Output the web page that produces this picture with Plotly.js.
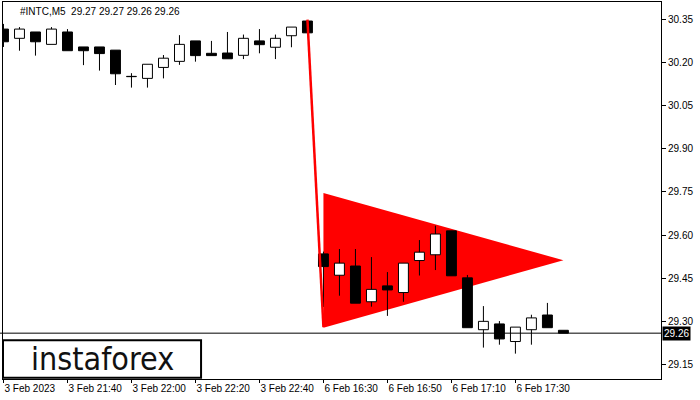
<!DOCTYPE html>
<html>
<head>
<meta charset="utf-8">
<script src="https://cdn.plot.ly/plotly-3.0.1.min.js"></script>
<style>html,body{margin:0;padding:0;background:#fff;}#chart{width:700px;height:400px;}</style>
</head>
<body>
<div id="chart"></div>
<script>
// Bar index (5-minute candles), 3 Feb 21:20 .. 22:55 then 6 Feb 16:30 .. 17:45
const candleIndex = [0,1,2,3,4,5,6,7,8,9,10,11,12,13,14,15,16,17,18,19,20,21,22,23,24,25,26,27,28,29,30,31,32,33,34,35];
const openVals  = [30.315,30.283,30.305,30.262,30.305,30.253,30.253,30.242,30.151,30.144,30.182,30.203,30.274,30.231,30.232,30.224,30.274,30.252,30.292,30.343,
                   29.535,29.461,29.493,29.369,29.424,29.401,29.512,29.532,29.615,29.452,29.272,29.292,29.231,29.272,29.323,29.27];
const highVals  = [30.333,30.322,30.305,30.322,30.315,30.253,30.253,30.242,30.162,30.193,30.225,30.294,30.274,30.274,30.305,30.296,30.315,30.296,30.322,30.345,
                   29.543,29.552,29.552,29.524,29.472,29.503,29.583,29.633,29.615,29.462,29.354,29.302,29.281,29.324,29.365,29.27];
const lowVals   = [30.253,30.240,30.223,30.262,30.240,30.190,30.171,30.121,30.112,30.112,30.144,30.191,30.202,30.223,30.212,30.211,30.231,30.211,30.252,30.302,
                   29.351,29.390,29.364,29.352,29.320,29.369,29.460,29.479,29.459,29.279,29.210,29.220,29.189,29.220,29.279,29.26];
const closeVals = [30.271,30.315,30.271,30.315,30.240,30.240,30.230,30.160,30.150,30.193,30.214,30.262,30.223,30.223,30.212,30.283,30.261,30.283,30.322,30.302,
                   29.491,29.503,29.364,29.412,29.410,29.503,29.541,29.604,29.459,29.279,29.301,29.240,29.281,29.313,29.279,29.26];

const xTickVals = [0,4,8,12,16,20,24,28,32];
const xTickText = ['3 Feb 2023','3 Feb 21:40','3 Feb 22:00','3 Feb 22:20','3 Feb 22:40','6 Feb 16:30','6 Feb 16:50','6 Feb 17:10','6 Feb 17:30'];
const yTickVals = [29.15,29.30,29.45,29.60,29.75,29.90,30.05,30.20,30.35];

// Pennant pattern (flagpole + triangle)
const poleX = [19, 20];
const poleY = [30.348, 29.281];
const triX = [20, 20, 35];
const triY = [29.746, 29.279, 29.513];

const lastPrice = 29.26;
const titleText = '#INTC,M5\u00a0\u00a029.27 29.27 29.26 29.26';

// derived: wicks drawn only outside the body so hollow bodies stay empty
const wickX = [], wickY = [];
candleIndex.forEach((x, i) => {
  const top = Math.max(openVals[i], closeVals[i]);
  const bot = Math.min(openVals[i], closeVals[i]);
  if (highVals[i] > top) { wickX.push(x, x, null); wickY.push(top, highVals[i], null); }
  if (lowVals[i] < bot) { wickX.push(x, x, null); wickY.push(lowVals[i], bot, null); }
});
const bodyBase = candleIndex.map((x, i) => Math.min(openVals[i], closeVals[i]));
const bodyH = candleIndex.map((x, i) => Math.max(Math.abs(closeVals[i] - openVals[i]), 0.0005));
const bodyColor = candleIndex.map((x, i) => closeVals[i] >= openVals[i] ? '#ffffff' : '#000000');
const triPath = triX.map((x, i) => (i ? 'L' : 'M') + x + ',' + triY[i]).join(' ') + ' Z';

const traces = [
  {type:'scatter', mode:'lines', x:wickX, y:wickY, line:{color:'#000', width:1}, hoverinfo:'skip'},
  {type:'bar', x:candleIndex, y:bodyH, base:bodyBase, width:0.62, marker:{color:bodyColor, line:{color:'#000', width:1}}, hoverinfo:'skip'},
  {type:'scatter', mode:'lines', x:poleX, y:poleY, line:{color:'#ff0000', width:2.5}, hoverinfo:'skip'}
];

const layout = {
  width:700, height:400,
  margin:{l:3, r:39, t:2, b:21},
  paper_bgcolor:'#ffffff', plot_bgcolor:'#ffffff',
  showlegend:false,
  barmode:'overlay',
  font:{family:'Liberation Sans, Arial, sans-serif', size:10, color:'#000'},
  xaxis:{
    range:[-0.03, 41.1], showgrid:false, zeroline:false,
    showline:true, mirror:true, linecolor:'#000', linewidth:1,
    tickmode:'array', tickvals:xTickVals, ticktext:xTickText,
    ticks:'outside', ticklen:3, tickcolor:'#000',
    ticklabelposition:'outside right',
    tickfont:{family:'Liberation Sans, Arial, sans-serif', size:10, color:'#000'}
  },
  yaxis:{
    side:'right', range:[29.101, 30.409], showgrid:false, zeroline:false,
    showline:true, mirror:true, linecolor:'#000', linewidth:1,
    tickmode:'array', tickvals:yTickVals, ticktext:yTickVals.map(v => v.toFixed(2)),
    ticks:'outside', ticklen:4, tickcolor:'#000',
    tickfont:{family:'Liberation Sans, Arial, sans-serif', size:10, color:'#000'}
  },
  shapes:[
    {type:'path', xref:'x', yref:'y', path:triPath, fillcolor:'#ff0000', line:{width:0}, layer:'below'},
    {type:'line', xref:'paper', yref:'y', x0:-0.005, x1:1, y0:lastPrice, y1:lastPrice, line:{color:'#000', width:1}},
    {type:'rect', xref:'paper', yref:'paper', x0:0, x1:0.301, y0:0.003, y1:0.103, fillcolor:'#fff', line:{color:'#000', width:2}}
  ],
  annotations:[
    {xref:'paper', yref:'paper', x:0.0228, y:0.976, xanchor:'left', yanchor:'middle', showarrow:false,
     text:titleText, font:{family:'Liberation Sans, Arial, sans-serif', size:10, color:'#000'}},
    {xref:'paper', yref:'y', x:1, y:lastPrice, xanchor:'left', yanchor:'middle', xshift:1, showarrow:false,
     text:lastPrice.toFixed(2), bgcolor:'#000', borderpad:1, font:{family:'Liberation Sans, Arial, sans-serif', size:10, color:'#fff'}},
    {xref:'paper', yref:'paper', x:0.1505, y:0.053, xanchor:'center', yanchor:'middle', showarrow:false,
     text:'instaforex', font:{family:'Liberation Sans Narrow, DejaVu Sans Condensed, sans-serif', size:32, color:'#111'}}
  ]
};

Plotly.newPlot('chart', traces, layout, {displayModeBar:false, staticPlot:true});
</script>
</body>
</html>
